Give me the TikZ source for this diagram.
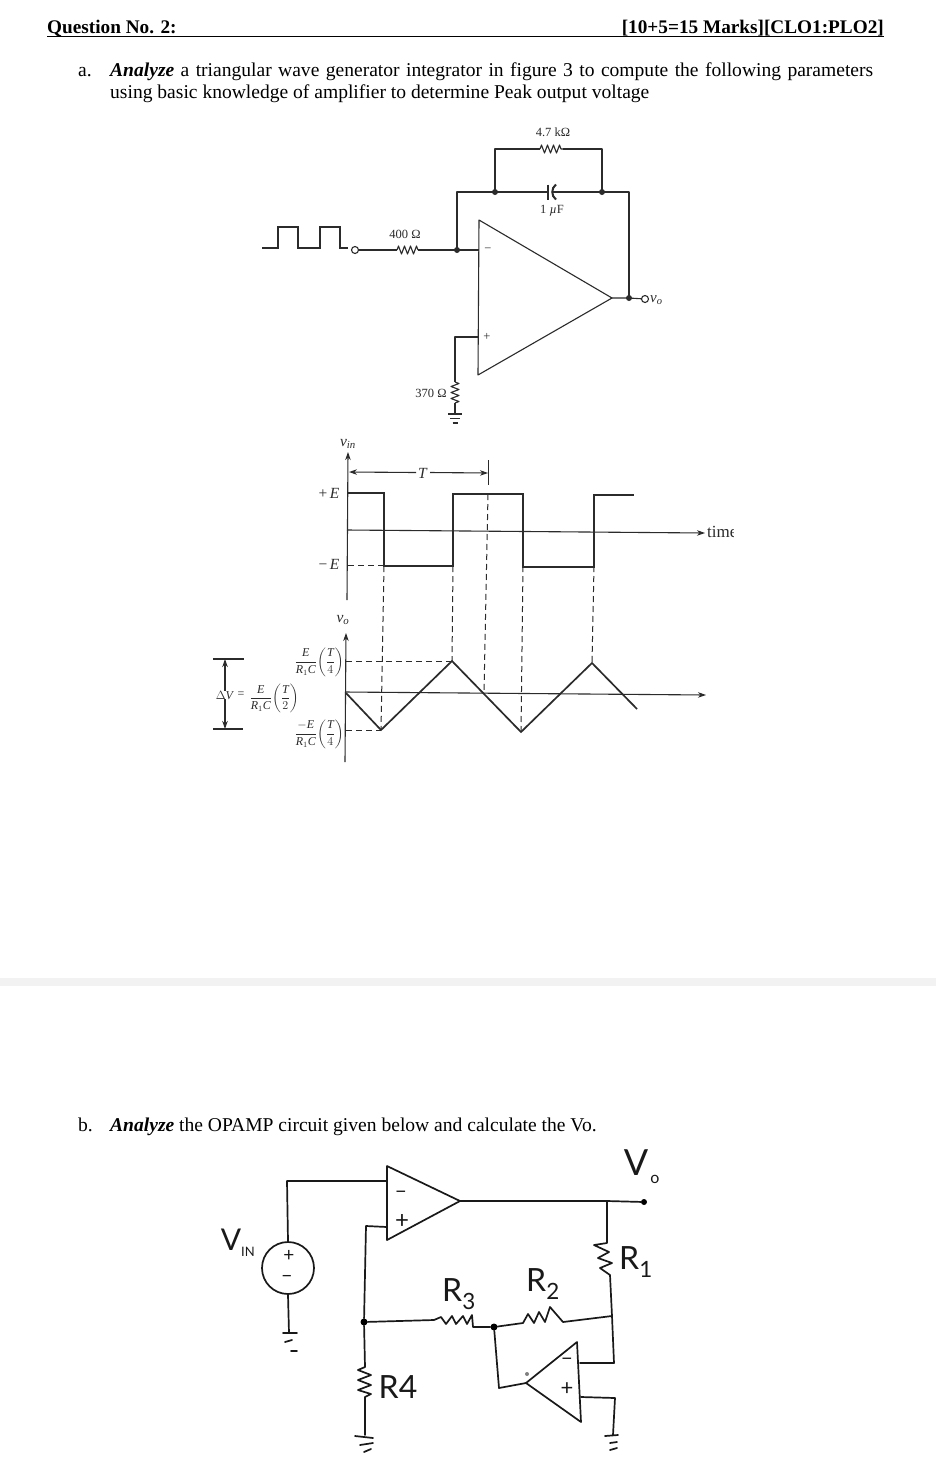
\documentclass[tikz,border=0pt]{standalone}
\usepackage{amsmath}
\usepackage{fontspec}
\setmainfont{Liberation Serif}
\newfontfamily\hand{Lato}
\usetikzlibrary{decorations.pathmorphing,arrows.meta}
\definecolor{ink}{HTML}{2B2B2B}
\definecolor{band}{HTML}{F2F2F2}
\tikzset{
  x=1pt,y=-1pt,
  bodytext/.style={anchor=base west,inner sep=0pt,font=\fontsize{19.55}{22}\selectfont},
  wire/.style={draw=ink,line width=1.1pt,line join=round},
  wave/.style={draw=ink,line width=2pt,line join=miter},
  axisline/.style={draw=ink,line width=1.1pt},
  dashline/.style={draw=ink,line width=1pt,dash pattern=on 6pt off 4pt},
  tip/.style={-{Stealth[length=8pt,width=5.5pt]}},
  dotn/.style={circle,fill=ink,inner sep=0pt,minimum size=6pt},
  opent/.style={circle,draw=ink,fill=white,line width=1.1pt,inner sep=0pt,minimum size=7pt},
  lab/.style={inner sep=0pt,text=ink,font=\fontsize{12.5}{14}\selectfont},
  wavelab/.style={inner sep=0pt,text=ink,font=\fontsize{15.5}{16}\selectfont},
  fraclab/.style={inner sep=0pt,text=ink,font=\fontsize{12}{14}\selectfont},
  res/.style={wire,decoration={zigzag,segment length=6pt,amplitude=4pt},decorate},
  handw/.style={draw=black!90,line width=1.7pt,line join=round,line cap=round},
  handlab/.style={inner sep=0pt,text=black!90,font=\hand\fontsize{32}{34}\selectfont},
}
\begin{document}
\begin{tikzpicture}
\useasboundingbox (0,0) rectangle (936,1460);
\fill[white] (0,0) rectangle (936,1460);
\fill[band] (0,978) rectangle (936,986);

% heading
\node[bodytext,font=\bfseries\fontsize{19.25}{22}\selectfont] (qno) at (47,33) {Question No. 2:};
\node[bodytext,anchor=base east,font=\bfseries\fontsize{19.25}{22}\selectfont] (marks) at (884,33) {[10+5=15 Marks][CLO1:PLO2]};
\coordinate (ulA) at (47,36.5);
\coordinate (ulB) at (884,36.5);
\draw[line width=1.6pt] (ulA) -- (ulB);
\node[bodytext] (alabel) at (78,76) {a.};
\node[bodytext] (aone) at (110,76) {\makebox[763pt][s]{\textbf{\textit{Analyze}} a triangular wave generator integrator in figure 3 to compute the following parameters}};
\node[bodytext] (atwo) at (110,98) {using basic knowledge of amplifier to determine Peak output voltage};
\node[bodytext] (blabel) at (78,1131) {b.};
\node[bodytext] (bone) at (110,1131) {\textbf{\textit{Analyze}} the OPAMP circuit given below and calculate the Vo.};

% ---- integrator circuit
\coordinate (sq0) at (262,248);
\draw[wave,line width=1.6pt] (sq0) -- (278,248) -- (278,227) -- (298,227) -- (298,248) -- (320,248) -- (320,227) -- (340,227) -- (340,248) -- (348,248);
\node[opent] (vin) at (355,250) {};
\coordinate (jinc) at (457,250);
\coordinate (jlc) at (495,192);
\coordinate (jrc) at (602,192);
\coordinate (joutc) at (629,298);
\node[opent] (vout) at (645,299) {};
\coordinate (oa1tl) at (479,220);
\coordinate (oa1bl) at (478,375);
\coordinate (oa1tip) at (612,298);
\draw[wire] (oa1tl) -- (oa1bl) -- (oa1tip) -- cycle;
\coordinate (inm) at (478.5,250);
\coordinate (inp) at (478,337);
\coordinate (r400a) at (397,250);
\coordinate (r400b) at (418,250);
\draw[wire] (vin) -- (r400a);
\draw[res] (r400a) -- (r400b);
\draw[wire] (r400b) -- (jinc) -- (inm);
\coordinate (fbc) at (457,192);
\draw[wire] (jinc) -- (fbc) -- (jlc);
\coordinate (capa) at (547.5,192);
\coordinate (capb) at (552,192);
\draw[wire] (jlc) -- (capa);
\draw[wire] (capb) -- (jrc);
\draw[draw=ink,line width=2pt] (547.5,184.5) -- (547.5,199.5);
\draw[draw=ink,line width=2pt] (556,184.5) .. controls (551,188) and (551,196) .. (556,199.5);
\coordinate (fbr) at (629,192);
\draw[wire] (jrc) -- (fbr) -- (joutc);
\draw[wire] (oa1tip) -- (joutc) -- (vout);
\coordinate (tl) at (495,149);
\coordinate (tr) at (602,149);
\coordinate (r47a) at (540,149);
\coordinate (r47b) at (563,149);
\draw[wire] (jlc) -- (tl) -- (r47a);
\draw[res] (r47a) -- (r47b);
\draw[wire] (r47b) -- (tr) -- (jrc);
\node[dotn] (jin) at (jinc) {};
\node[dotn] (jl) at (jlc) {};
\node[dotn] (jr) at (jrc) {};
\node[dotn] (jout) at (joutc) {};
\coordinate (pc) at (455,337);
\coordinate (r370a) at (455,382);
\coordinate (r370b) at (455,403);
\coordinate (gnd1) at (455,414);
\draw[wire] (inp) -- (pc) -- (r370a);
\draw[res] (r370a) -- (r370b);
\draw[wire] (r370b) -- (gnd1);
\draw[wire] (448,414) -- (462,414);
\draw[wire] (450,418.5) -- (460,418.5);
\draw[wire] (452.5,423) -- (457.5,423);
\node[lab] (l47) at (553,132) {4.7 kΩ};
\node[lab] (l1u) at (552,211) {1 \textit{µ}F};
\node[lab] (l400) at (405,234) {400 Ω};
\node[lab] (l370) at (431,393) {370 Ω};
\node[lab] (lminus) at (488,250) {\textminus};
\node[lab] (lplus) at (487,337) {+};
\node[lab,anchor=west,font=\fontsize{15}{15}\selectfont] (lvo) at (650,300) {\textit{v}$_{\textit{o}}$};

% ---- input waveform
\coordinate (ya) at (348,452);
\coordinate (yb) at (347,600);
\draw[axisline,tip] (yb) -- (ya);
\coordinate (ta) at (347,530);
\coordinate (tb) at (705,533);
\draw[axisline,tip] (ta) -- (tb);
\begin{scope}
\clip (700,520) rectangle (733,545);
\node[wavelab,font=\fontsize{17}{17}\selectfont,anchor=west] (ltime) at (707,531.5) {time};
\end{scope}
\node[wavelab] (lvin) at (348,444) {\textit{v}$_{\textit{in}}$};
\node[wavelab] (lpe) at (329,493) {+\,\textit{E}};
\node[wavelab] (lme) at (329,564) {\textminus\,\textit{E}};
\draw[wave] (347,493) -- (384,493) -- (384,566) -- (453,566) -- (453,494) -- (523,494) -- (523,566.5) -- (594,566.5) -- (594,495) -- (634,495);
\draw[dashline] (348,565) -- (384,565);
\node[wavelab] (lT) at (423,473) {\textit{T}};
\coordinate (Ta) at (349,472);
\coordinate (Tb) at (488,473);
\coordinate (Tl) at (416,472.5);
\coordinate (Tr) at (430,472.5);
\draw[axisline,tip] (Tl) -- (Ta);
\draw[axisline,tip] (Tr) -- (Tb);
\draw[axisline] (488.5,460) -- (488.5,485);
% ---- output waveform
\coordinate (za) at (346,633);
\coordinate (zb) at (345,762);
\draw[axisline,tip] (zb) -- (za);
\coordinate (wa) at (345,692);
\coordinate (wb) at (706,695);
\draw[axisline,tip] (wa) -- (wb);
\node[wavelab] (lvo2) at (343,620) {\textit{v}$_{\textit{o}}$};
\coordinate (t0) at (346,693);
\coordinate (t1) at (381,730);
\coordinate (t2) at (452,661);
\coordinate (t3) at (521,732);
\coordinate (t4) at (592,663);
\coordinate (t5) at (637,709);
\draw[wave,line width=1.7pt] (t0) -- (t1) -- (t2) -- (t3) -- (t4) -- (t5);
\draw[dashline] (346,661) -- (t2);
\draw[dashline] (346,730) -- (t1);
\draw[dashline] (384,566) -- (t1);
\draw[dashline] (453,566) -- (t2);
\draw[dashline] (523,566) -- (t3);
\draw[dashline] (594,566) -- (t4);
\draw[dashline] (488,494) -- (484,692);
\node[fraclab,anchor=east] (lf1) at (344,662) {$\dfrac{\textit{E}}{\textit{R}_{1}\textit{C}}\!\left(\dfrac{\textit{T}}{4}\right)$};
\node[fraclab,anchor=east] (lf2) at (344,734) {$\dfrac{-\textit{E}}{\textit{R}_{1}\textit{C}}\!\left(\dfrac{\textit{T}}{4}\right)$};
\node[fraclab] (ldv) at (225,695) {$\Delta$\textit{V}};
\node[fraclab] (leq) at (241,695) {=};
\node[fraclab,anchor=east] (lf3b) at (299,698.5) {$\dfrac{\textit{E}}{\textit{R}_{1}\textit{C}}\!\left(\dfrac{\textit{T}}{2}\right)$};
\coordinate (dvt) at (225,659);
\coordinate (dvb) at (225,729);
\draw[axisline] (213,659) -- (244,659);
\draw[axisline] (213,729) -- (243,729);
\draw[axisline,tip] (ldv.north) -- (dvt);
\draw[axisline,tip] (ldv.south) -- (dvb);

% ---- hand drawn circuit
\coordinate (o1a) at (387,1166);
\coordinate (o1b) at (460,1201);
\coordinate (o1c) at (387,1240);
\draw[handw] (o1a) -- (o1b) -- (o1c) -- cycle;
\node[handlab,font=\hand\fontsize{20}{20}\selectfont] (o1m) at (401,1195) {\textminus};
\node[handlab,font=\hand\fontsize{24}{24}\selectfont] (o1p) at (402,1221) {+};
\node[circle,draw=black!90,line width=1.7pt,minimum size=52pt,inner sep=0pt] (src) at (288,1268) {};
\node[handlab,font=\hand\fontsize{19}{19}\selectfont] (srcp) at (289,1256) {+};
\node[handlab,font=\hand\fontsize{19}{19}\selectfont] (srcm) at (287,1279) {\textminus};
\coordinate (i1) at (387,1181);
\coordinate (i2) at (287,1181);
\draw[handw] (i1) -- (i2) -- (src.north);
\coordinate (g1) at (289,1333);
\draw[handw] (src.south) -- (g1);
\draw[handw] (283,1333) -- (297,1333);
\draw[handw] (285,1342) -- (292,1340);
\draw[handw] (291,1351) -- (297,1351);
\node[circle,fill=black,inner sep=0pt,minimum size=7pt] (j1) at (364,1322) {};
\node[circle,fill=black,inner sep=0pt,minimum size=7pt] (j2) at (494,1327) {};
\node[circle,fill=black,inner sep=0pt,minimum size=6pt] (vodot) at (644,1202) {};
\coordinate (p1) at (387,1227);
\coordinate (p2) at (366,1226);
\draw[handw] (p1) -- (p2) -- (j1);
\coordinate (r3a) at (434,1320);
\coordinate (r3e) at (473,1327);
\draw[handw] (j1) -- (r3a) -- (441,1317) -- (446,1324) -- (452,1316) -- (456,1324) -- (463,1316) -- (467,1324) -- (472,1315) -- (r3e) -- (j2);
\coordinate (r2a) at (523,1323);
\coordinate (r2e) at (563,1322);
\coordinate (n1) at (612,1316);
\draw[handw] (j2) -- (r2a) -- (528,1314) -- (534,1323) -- (539,1312) -- (545,1322) -- (550,1307) -- (r2e) -- (n1);
\coordinate (b1) at (607,1201);
\draw[handw] (o1b) -- (b1) -- (vodot);
\coordinate (r1a) at (607,1243);
\coordinate (r1e) at (610,1275);
\draw[handw] (b1) -- (r1a) -- (594,1245) -- (609,1252) -- (598,1258) -- (612,1263) -- (600,1268) -- (r1e) -- (n1);
\coordinate (o2a) at (577,1342);
\coordinate (o2b) at (526,1383);
\coordinate (o2c) at (581,1422);
\draw[handw] (o2a) -- (o2b) -- (o2c) -- cycle;
\node[circle,fill=gray,inner sep=0pt,minimum size=4pt] (o2dot) at (527,1374) {};
\node[handlab,font=\hand\fontsize{20}{20}\selectfont] (o2m) at (567,1362) {\textminus};
\node[handlab,font=\hand\fontsize{22}{22}\selectfont] (o2p) at (567,1389) {+};
\coordinate (n2) at (614,1363);
\coordinate (m2) at (580,1363);
\draw[handw] (n1) -- (n2) -- (m2);
\coordinate (t2b) at (499,1388);
\draw[handw] (o2b) -- (t2b) -- (j2);
\coordinate (pp1) at (581,1397);
\coordinate (pp2) at (615,1398);
\coordinate (g3) at (613,1435);
\draw[handw] (pp1) -- (pp2) -- (g3);
\draw[handw] (605,1436) -- (618,1435);
\draw[handw] (610,1443) -- (617,1442);
\draw[handw] (610,1450) -- (617,1448);
\coordinate (r4a) at (365,1367);
\coordinate (r4e) at (365,1397);
\coordinate (g2) at (365,1435);
\draw[handw] (j1) -- (r4a) -- (358,1370) -- (371,1375) -- (358,1380) -- (371,1385) -- (358,1390) -- (371,1394) -- (r4e) -- (g2);
\draw[handw] (355,1436) -- (373,1438);
\draw[handw] (360,1445) -- (373,1443);
\draw[handw] (364,1452) -- (371,1449);
\node[handlab,font=\hand\fontsize{36}{36}\selectfont] (lV) at (636,1163) {V};
\node[handlab,font=\hand\fontsize{16}{16}\selectfont] (lVo) at (655,1179) {o};
\node[handlab,font=\hand\fontsize{30}{30}\selectfont] (lVin) at (231,1240) {V};
\node[handlab,font=\hand\fontsize{13}{13}\selectfont] (lVinb) at (248,1252) {IN};
\node[handlab] (lR3) at (459,1294) {R$_{\text{3}}$};
\node[handlab] (lR2) at (543,1284) {R$_{\text{2}}$};
\node[handlab] (lR1) at (636,1262) {R$_{\text{1}}$};
\node[handlab] (lR4) at (398,1387) {R4};
\end{tikzpicture}
\end{document}
